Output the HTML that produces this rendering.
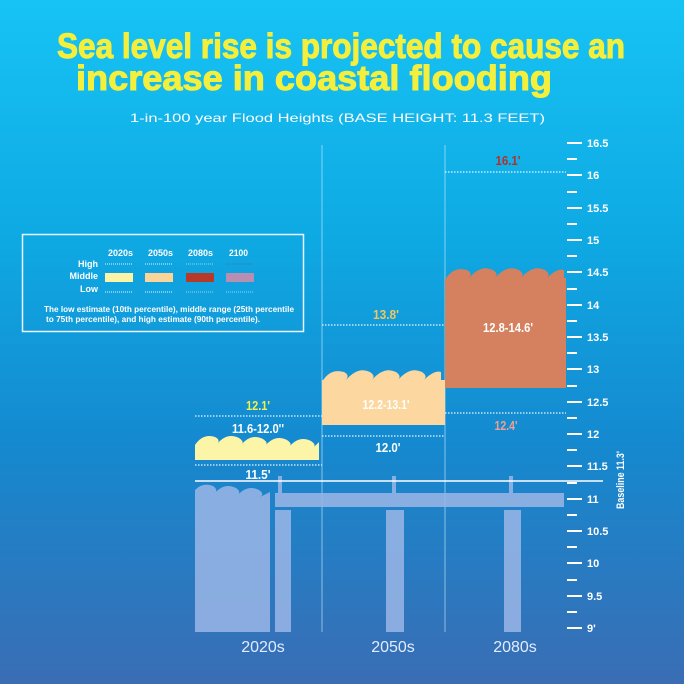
<!DOCTYPE html>
<html><head><meta charset="utf-8"><style>
html,body{margin:0;padding:0}
body{width:684px;height:684px;overflow:hidden;background:linear-gradient(180deg,#17c3f4 0%,#0ea9e3 35%,#1589cf 65%,#3a6db4 100%);font-family:"Liberation Sans",sans-serif}
svg{position:absolute;left:0;top:0}
</style></head><body>
<svg width="684" height="684" viewBox="0 0 684 684" xmlns="http://www.w3.org/2000/svg">
<g font-family="Liberation Sans, sans-serif" font-weight="bold" fill="#f4ef3c" font-size="35" stroke="#f4ef3c" stroke-width="1">
<text x="57" y="58" textLength="568" lengthAdjust="spacingAndGlyphs">Sea level rise is projected to cause an</text>
<text x="76" y="90" textLength="476" lengthAdjust="spacingAndGlyphs">increase in coastal flooding</text>
</g>
<text x="130" y="122" fill="#fff" font-size="12" textLength="415" lengthAdjust="spacingAndGlyphs" font-family="Liberation Sans, sans-serif">1-in-100 year Flood Heights  (BASE HEIGHT: 11.3 FEET)</text>

<line x1="322" y1="145" x2="322" y2="632" stroke="#cfeefc" stroke-opacity="0.6" stroke-width="1"/>
<line x1="445" y1="145" x2="445" y2="632" stroke="#cfeefc" stroke-opacity="0.6" stroke-width="1"/>

<rect x="22.5" y="234.5" width="281" height="97" fill="none" stroke="#e8f8ff" stroke-width="1.5"/>
<g font-family="Liberation Sans, sans-serif" font-weight="bold" fill="#fff" font-size="9">
<text x="108" y="256" textLength="25" lengthAdjust="spacingAndGlyphs">2020s</text><text x="148" y="256" textLength="25" lengthAdjust="spacingAndGlyphs">2050s</text><text x="188" y="256" textLength="25" lengthAdjust="spacingAndGlyphs">2080s</text><text x="229" y="256" textLength="19" lengthAdjust="spacingAndGlyphs">2100</text>
<text x="98" y="267" text-anchor="end">High</text>
<text x="98" y="279" text-anchor="end">Middle</text>
<text x="98" y="292" text-anchor="end">Low</text>
</g>
<g stroke="#dff" stroke-width="1" stroke-dasharray="1 1">
<line x1="105" y1="264" x2="133" y2="264"/><line x1="145" y1="264" x2="173" y2="264"/><line x1="186" y1="264" x2="214" y2="264" stroke-opacity=".6"/><line x1="226" y1="264" x2="254" y2="264" stroke="#5a6aa0"/>
<line x1="105" y1="292" x2="133" y2="292"/><line x1="145" y1="292" x2="173" y2="292"/><line x1="186" y1="292" x2="214" y2="292" stroke-opacity=".6"/><line x1="226" y1="292" x2="254" y2="292" stroke-opacity=".6"/>
</g>
<rect x="105" y="273" width="28" height="9" fill="#fbf3a6"/>
<rect x="145" y="273" width="28" height="9" fill="#fbd49a"/>
<rect x="186" y="273" width="28" height="9" fill="#b6392a"/>
<rect x="226" y="273" width="28" height="9" fill="#b88fb0"/>
<text x="44" y="312" fill="#fff" font-size="8" font-weight="bold" textLength="250" lengthAdjust="spacingAndGlyphs">The low estimate (10th percentile), middle range (25th percentile</text>
<text x="46" y="322" fill="#fff" font-size="8" font-weight="bold" textLength="214" lengthAdjust="spacingAndGlyphs">to 75th percentile), and high estimate (90th percentile).</text>

<g stroke="#fff" stroke-width="2">
<line x1="567" y1="143" x2="582" y2="143"/><line x1="567" y1="159" x2="577" y2="159"/>
<line x1="567" y1="175" x2="582" y2="175"/><line x1="567" y1="192" x2="577" y2="192"/>
<line x1="567" y1="208" x2="582" y2="208"/><line x1="567" y1="224" x2="577" y2="224"/>
<line x1="567" y1="240" x2="582" y2="240"/><line x1="567" y1="256" x2="577" y2="256"/>
<line x1="567" y1="272" x2="582" y2="272"/><line x1="567" y1="289" x2="577" y2="289"/>
<line x1="567" y1="305" x2="582" y2="305"/><line x1="567" y1="321" x2="577" y2="321"/>
<line x1="567" y1="337" x2="582" y2="337"/><line x1="567" y1="353" x2="577" y2="353"/>
<line x1="567" y1="369" x2="582" y2="369"/><line x1="567" y1="386" x2="577" y2="386"/>
<line x1="567" y1="402" x2="582" y2="402"/><line x1="567" y1="418" x2="577" y2="418"/>
<line x1="567" y1="434" x2="582" y2="434"/><line x1="567" y1="450" x2="577" y2="450"/>
<line x1="567" y1="466" x2="582" y2="466"/><line x1="567" y1="483" x2="577" y2="483"/>
<line x1="567" y1="499" x2="582" y2="499"/><line x1="567" y1="515" x2="577" y2="515"/>
<line x1="567" y1="531" x2="582" y2="531"/><line x1="567" y1="547" x2="577" y2="547"/>
<line x1="567" y1="563" x2="582" y2="563"/><line x1="567" y1="580" x2="577" y2="580"/>
<line x1="567" y1="596" x2="582" y2="596"/><line x1="567" y1="612" x2="577" y2="612"/>
<line x1="567" y1="628" x2="582" y2="628"/>
</g>
<g fill="#fff" font-family="Liberation Sans, sans-serif" font-weight="bold" font-size="11">
<text x="587" y="147">16.5</text><text x="587" y="179">16</text><text x="587" y="212">15.5</text><text x="587" y="244">15</text>
<text x="587" y="276">14.5</text><text x="587" y="309">14</text><text x="587" y="341">13.5</text><text x="587" y="373">13</text>
<text x="587" y="406">12.5</text><text x="587" y="438">12</text><text x="587" y="470">11.5</text><text x="587" y="503">11</text>
<text x="587" y="535">10.5</text><text x="587" y="567">10</text><text x="587" y="600">9.5</text><text x="587" y="632">9'</text>
<text transform="translate(624 480) rotate(-90)" text-anchor="middle" font-size="11" textLength="58" lengthAdjust="spacingAndGlyphs">Baseline 11.3'</text>
</g>

<path d="M195 460 V445 q8 -12 20 -8 q6 3 2 7 q10 -12 22 -6 q6 4 2 7 q10 -12 22 -6 q6 4 2 7 q10 -12 22 -6 q6 4 2 7 q10 -12 22 -6 q6 4 2 7 q6 -6 6 -6 V460 Z" fill="#fcf5a8"/>
<rect x="322" y="380" width="123" height="45" fill="#fcd7a0"/>
<path d="M322 382 q8 -14 22 -10 q6 3 2 8 q12 -14 24 -8 q6 4 2 8 q12 -14 24 -8 q6 4 2 8 q12 -14 24 -8 q6 4 2 8 q10 -10 17 -8 V385 H322 Z" fill="#fcd7a0"/>
<rect x="445" y="278" width="121" height="110" fill="#d5805e"/>
<path d="M445 280 q8 -14 22 -10 q6 3 2 8 q12 -14 24 -8 q6 4 2 8 q12 -14 24 -8 q6 4 2 8 q12 -14 24 -8 q6 4 2 8 q10 -10 17 -8 V283 H445 Z" fill="#d5805e"/>

<g stroke="#e6f6ff" stroke-width="1.3" stroke-dasharray="1.5 1.5">
<line x1="195" y1="416" x2="322" y2="416"/>
<line x1="195" y1="465" x2="322" y2="465"/>
<line x1="322" y1="325" x2="445" y2="325"/>
<line x1="322" y1="436" x2="445" y2="436"/>
<line x1="445" y1="172" x2="566" y2="172"/>
<line x1="445" y1="413" x2="566" y2="413"/>
</g>

<g font-family="Liberation Sans, sans-serif" font-weight="bold" text-anchor="middle" font-size="13">
<text x="258" y="410" fill="#eef24a" textLength="24" lengthAdjust="spacingAndGlyphs">12.1'</text>
<text x="258" y="433" fill="#fff" textLength="52" lengthAdjust="spacingAndGlyphs">11.6-12.0''</text>
<text x="258" y="479" fill="#fff" textLength="25" lengthAdjust="spacingAndGlyphs">11.5'</text>
<text x="386" y="319" fill="#f2c560" textLength="26" lengthAdjust="spacingAndGlyphs">13.8'</text>
<text x="386" y="409" fill="#fff" textLength="47" lengthAdjust="spacingAndGlyphs">12.2-13.1'</text>
<text x="388" y="452" fill="#fff" textLength="25" lengthAdjust="spacingAndGlyphs">12.0'</text>
<text x="508" y="165" fill="#b3302a" textLength="25" lengthAdjust="spacingAndGlyphs">16.1'</text>
<text x="508" y="332" fill="#fff" textLength="50" lengthAdjust="spacingAndGlyphs">12.8-14.6'</text>
<text x="506" y="430" fill="#f0a090" textLength="23" lengthAdjust="spacingAndGlyphs">12.4'</text>
</g>

<g fill="#9bb6e6" fill-opacity="0.85">
<path d="M195 632 V490 q8 -8 18 -4 q6 4 1 8 q10 -12 22 -6 q6 4 1 8 q10 -12 22 -6 q6 4 1 7 l10 -5 V632 Z"/>
<rect x="275" y="493" width="289" height="14"/>
<rect x="278" y="476" width="4" height="17"/>
<rect x="392" y="476" width="4" height="17"/>
<rect x="509" y="476" width="4" height="17"/>
<rect x="275" y="510" width="16" height="122"/>
<rect x="386" y="510" width="18" height="122"/>
<rect x="504" y="510" width="17" height="122"/>
</g>
<line x1="195" y1="481" x2="603" y2="481" stroke="#fff" stroke-width="1.5"/>

<g fill="#e2ecff" font-size="16" text-anchor="middle" font-family="Liberation Sans, sans-serif">
<text x="263" y="652">2020s</text><text x="393" y="652">2050s</text><text x="515" y="652">2080s</text>
</g>
</svg>
</body></html>
